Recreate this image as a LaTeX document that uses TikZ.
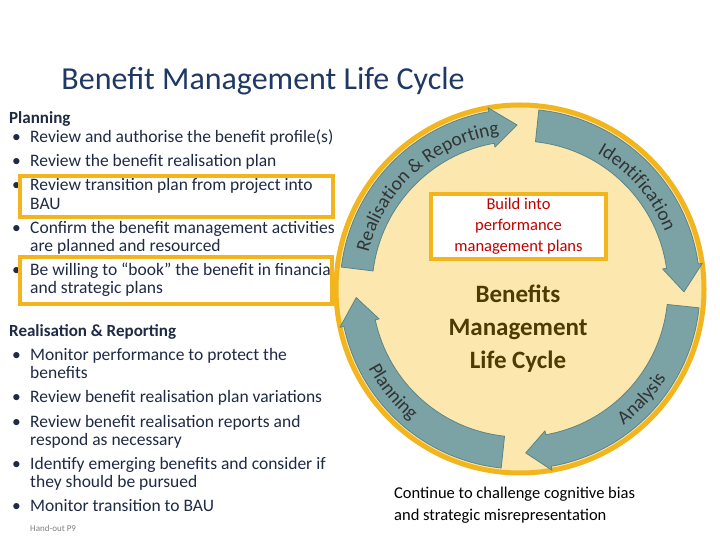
\documentclass[tikz,border=0pt]{standalone}
\usepackage{fontspec}
\setmainfont{Carlito}
\usetikzlibrary{decorations.text}
\definecolor{titleblue}{HTML}{1F3864}
\definecolor{bodyblue}{HTML}{1F2A44}
\definecolor{ringfill}{HTML}{FCE8AE}
\definecolor{ringedge}{HTML}{F2B51E}
\definecolor{band}{HTML}{7BA3A5}
\definecolor{bandedge}{HTML}{5C8587}
\definecolor{lbl}{HTML}{333333}
\definecolor{redtxt}{HTML}{C00000}
\definecolor{olive}{HTML}{4D3B00}
\newcommand{\bandarrow}[4]{% start, shoulder, tip, name
  \path[bandstyle] ([shift={(#1:180pt)}]C) arc[start angle=#1,end angle=#2,radius=180pt]
    -- ([shift={(#2:184pt)}]C) -- ([shift={(#3:164pt)}]C) -- ([shift={(#2:144pt)}]C)
    -- ([shift={(#2:148pt)}]C) arc[start angle=#2,end angle=#1,radius=148pt] -- cycle;}
\begin{document}
\begin{tikzpicture}[x=1pt,y=1pt,
  bandstyle/.style={fill=band,draw=bandedge,line width=0.8pt,line join=round},
  line/.style={anchor=base west,font=\fontsize{17.5}{18}\selectfont,text=bodyblue,inner sep=0pt},
  hl/.style={draw=ringedge,line width=4pt},
  arclbl/.style={decorate,decoration={text along path,text align=center,
     text color=lbl}}]
\useasboundingbox (0,0) rectangle (720,540);
\fill[white] (0,0) rectangle (720,540);
\coordinate (C) at (520,251);
% left text
\node[line,font=\bfseries\fontsize{17}{18}\selectfont] (p0) at (9,416) {Planning};
\foreach \y/\t [count=\i] in {397/Review and authorise the benefit profile(s),373/Review the benefit realisation plan,349/Review transition plan from project into,306/Confirm the benefit management activities,264/Be willing to ``book'' the benefit in financial}{
  \node[line] (pb\i) at (12,\y) {\textbullet};
  \node[line] (pl\i) at (30,\y) {\t};}
\node[line] (pc1) at (30,330) {BAU};
\node[line] (pc2) at (30,288) {are planned and resourced};
\node[line] (pc3) at (30,246) {and strategic plans};
\node[line,font=\bfseries\fontsize{17}{18}\selectfont] (r0) at (9,203) {Realisation \& Reporting};
\foreach \y/\t [count=\i] in {179/Monitor performance to protect the,137/Review benefit realisation plan variations,112/Review benefit realisation reports and,70/Identify emerging benefits and consider if,28/Monitor transition to BAU}{
  \node[line] (rb\i) at (12,\y) {\textbullet};
  \node[line] (rl\i) at (30,\y) {\t};}
\node[line] (rc1) at (30,161) {benefits};
\node[line] (rc2) at (30,94) {respond as necessary};
\node[line] (rc3) at (30,52) {they should be pursued};
\node[anchor=base west,font=\fontsize{9}{10}\selectfont,text=gray,inner sep=0pt] (ho) at (30,8) {Hand-out P9};
% circle
\node[circle,minimum size=368pt,fill=ringfill,draw=ringedge,line width=5pt,inner sep=0pt] (ring) at (C) {};
\bandarrow{173}{100}{91}{rr}
\bandarrow{84}{8}{-1}{id}
\bandarrow{-6}{-80}{-88}{an}
\bandarrow{-96}{-168}{-177}{pl}
% arc labels
\path[arclbl,decoration={text={|\fontsize{19.5}{19}\selectfont|Realisation {\&} Reporting}}]
  ([shift={(172:156pt)}]C) arc[start angle=172,end angle=92,radius=156pt];
\path[arclbl,decoration={text={|\fontsize{19.5}{19}\selectfont|Identification}}]
  ([shift={(82:156pt)}]C) arc[start angle=82,end angle=0,radius=156pt];
\path[arclbl,decoration={text={|\fontsize{19.5}{19}\selectfont|Analysis}}]
  ([shift={(-70:171pt)}]C) arc[start angle=-70,end angle=-14,radius=171pt];
\path[arclbl,decoration={text={|\fontsize{19.5}{19}\selectfont|Planning}}]
  ([shift={(186:171pt)}]C) arc[start angle=186,end angle=252,radius=171pt];
% build box
\node[draw=ringedge,line width=4pt,fill=white,minimum width=175pt,minimum height=65pt,
  align=center,font=\fontsize{16.5}{21}\selectfont,text=redtxt] (build) at (518.5,313.5)
  {Build into\\performance\\management plans};
\node[align=center,font=\bfseries\fontsize{25}{33}\selectfont,text=olive] (center) at (518,211)
  {Benefits\\Management\\Life Cycle};
% title
\node[anchor=base,font=\fontsize{32}{33}\selectfont,text=titleblue] (title) at (263,450)
  {Benefit Management Life Cycle};
% highlight boxes
\draw[hl] (20,323) rectangle (333,364);
\draw[hl] (20,236) rectangle (332,283);
% bottom text
\node[anchor=base west,font=\fontsize{16.5}{17}\selectfont,inner sep=0pt] (b1) at (394,41) {Continue to challenge cognitive bias};
\node[anchor=base west,font=\fontsize{16.5}{17}\selectfont,inner sep=0pt] (b2) at (394,19) {and strategic misrepresentation};
\end{tikzpicture}
\end{document}
